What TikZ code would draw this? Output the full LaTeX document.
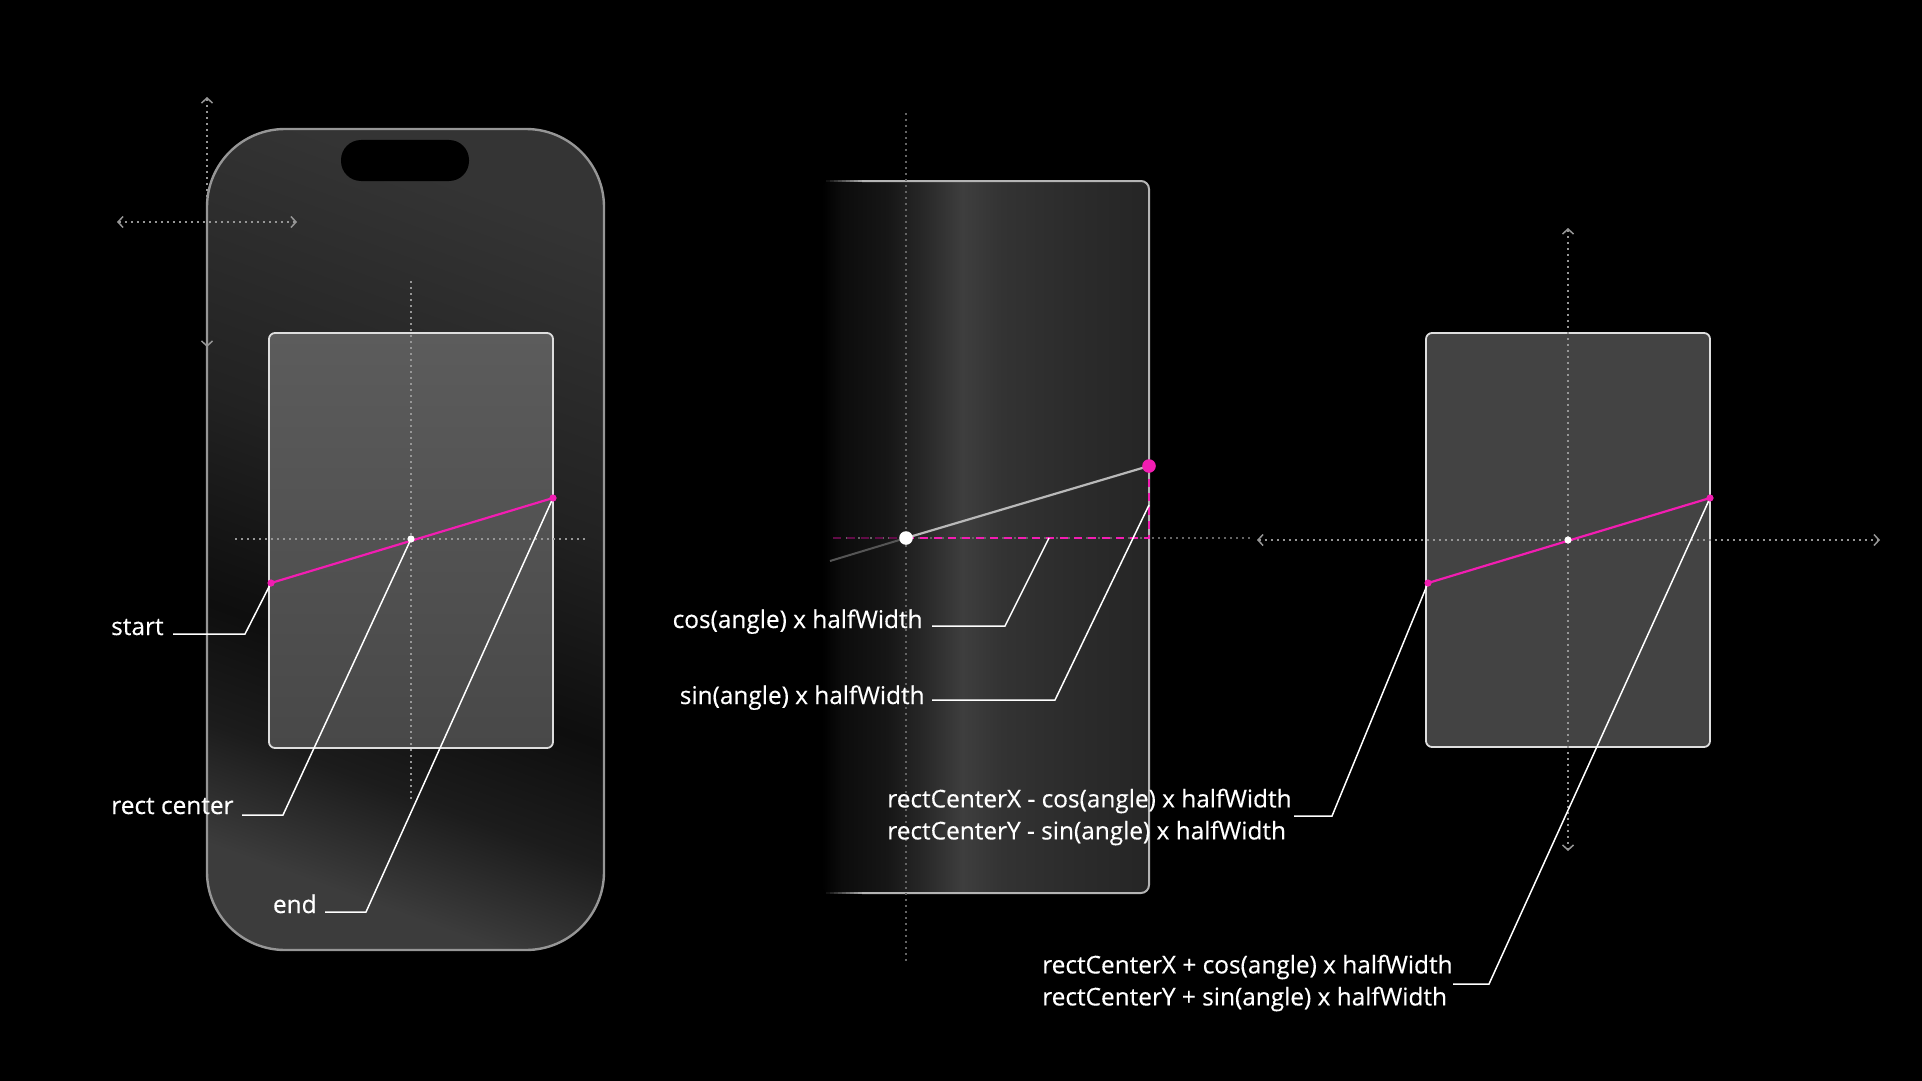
\documentclass[tikz,border=0pt]{standalone}
\usepackage{fontspec}
\setmainfont{Open Sans}[FakeBold=0.35]
\usepackage{tikz}
\usetikzlibrary{positioning,calc,arrows.meta}
\definecolor{hotpink}{RGB}{242,29,178}
\definecolor{guidegray}{RGB}{150,150,150}
\definecolor{darkguide}{RGB}{100,100,100}
\definecolor{phonetop}{RGB}{52,52,52}
\definecolor{phoneupper}{RGB}{34,34,34}
\definecolor{phonemid}{RGB}{14,14,14}
\definecolor{phonelow}{RGB}{28,28,28}
\definecolor{phonebot}{RGB}{60,60,60}
\definecolor{phoneedge}{RGB}{150,150,150}
\definecolor{recttop}{RGB}{92,92,92}
\definecolor{rectbot}{RGB}{72,72,72}
\definecolor{rectedge}{RGB}{222,222,222}
\definecolor{flatrect}{RGB}{67,67,67}
\definecolor{midA}{RGB}{12,12,12}
\definecolor{midB}{RGB}{22,22,22}
\definecolor{midC}{RGB}{38,38,38}
\definecolor{midD}{RGB}{62,62,62}
\definecolor{midE}{RGB}{51,51,51}
\definecolor{midF}{RGB}{44,44,44}
\definecolor{midG}{RGB}{37,37,37}
\definecolor{midedge}{RGB}{180,180,180}
\definecolor{radiusfar}{RGB}{85,85,85}
\definecolor{radiusnear}{RGB}{185,185,185}
\pgfdeclareverticalshading{phonefill}{100bp}{color(0bp)=(phonebot); color(25bp)=(phonebot); color(33bp)=(phonelow); color(41bp)=(phonemid); color(55bp)=(phoneupper); color(75bp)=(phonetop); color(100bp)=(phonetop)}
\pgfdeclarehorizontalshading{midfill}{100bp}{color(0bp)=(black); color(25bp)=(black); color(28bp)=(midA); color(35bp)=(midB); color(40bp)=(midC); color(46.5bp)=(midD); color(52.5bp)=(midE); color(62.5bp)=(midF); color(75bp)=(midG); color(100bp)=(midG)}
\tikzstyle{guide} = [guidegray, line width=0.75pt, dash pattern=on 1.2pt off 1.8pt]
\tikzstyle{guidearrows} = [guide, >={Straight Barb[length=2.5pt,width=5.5pt]}, <->]
\tikzstyle{leader} = [draw=white, line width=0.75pt]
\tikzstyle{lbltext} = [text=white, inner sep=0pt, font=\fontsize{12.2}{16}\selectfont]
\tikzstyle{pinkpath} = [hotpink, line width=1.1pt]
\tikzstyle{pinkdash} = [hotpink, line width=1pt, dash pattern=on 4pt off 3pt]
\tikzstyle{pinkdot} = [circle, fill=hotpink, inner sep=0pt, minimum size=3.6pt]
\tikzstyle{whitedot} = [circle, fill=white, inner sep=0pt, minimum size=3.6pt]
\tikzstyle{bigdot} = [minimum size=6.8pt]
\begin{document}
\begin{tikzpicture}[x=0.5pt, y=-0.5pt]
\fill[black] (0,0) rectangle (1922,1081);
\useasboundingbox (0,0) rectangle (1922,1081);

% phone
\shade[shading=phonefill, shading angle=-20, rounded corners=39pt] (207,129) rectangle (604,950);
\draw[phoneedge, line width=1.2pt, rounded corners=39pt] (207,129) rectangle (604,950);
\fill[black, rounded corners=10pt] (341,140) rectangle (469,181);
\shade[top color=recttop, bottom color=rectbot, draw=rectedge, line width=0.9pt, rounded corners=3pt] (269,333) rectangle (553,748);

\draw[guide] (235,539) -- (587,539);
\draw[guide] (411,281) -- (411,800);
\draw[guidearrows] (207,97) -- (207,347);
\draw[guidearrows] (117,222) -- (297,222);

\coordinate (lcenter) at (411,539);
\coordinate (lstart) at (271,583);
\coordinate (lend) at (553,498);
\draw[pinkpath] (lstart) -- (lend);

\node[lbltext, anchor=base east] (startlbl) at (164,635) {start};
\node[lbltext, anchor=base east] (centerlbl) at (234,814) {rect center};
\node[lbltext, anchor=base east] (endlbl) at (317,913) {end};
\coordinate (startknee) at (245,634);
\coordinate (centerknee) at (283,815);
\coordinate (endknee) at (366,912);
\draw[leader] ($(startlbl.east |- startknee)+(9,0)$) -- (startknee) -- (lstart);
\draw[leader] ($(centerlbl.east |- centerknee)+(8,0)$) -- (centerknee) -- (lcenter);
\draw[leader] ($(endlbl.east |- endknee)+(8,0)$) -- (endknee) -- (lend);

\node[pinkdot] (lstartdot) at (lstart) {};
\node[pinkdot] (lenddot) at (lend) {};
\node[whitedot] (lcenterdot) at (lcenter) {};

% middle
\shade[shading=midfill, rounded corners=4pt] (822,181) rectangle (1149,893);
\draw[midedge, line width=1pt, rounded corners=4pt] (862,181) -- (1149,181) -- (1149,893) -- (862,893);
\foreach \i in {0,...,9} {
  \draw[midedge!\i0!black, line width=1pt] (822+4*\i,181) -- (826+4*\i,181);
  \draw[midedge!\i0!black, line width=1pt] (822+4*\i,893) -- (826+4*\i,893);
}

\draw[guide, darkguide] (846,538) -- (1250,538);
\draw[guide, darkguide] (906,113) -- (906,962);

\coordinate (mcenter) at (906,538);
\coordinate (mtip) at (1149,466);
\coordinate (mfoot) at (1149,538);
\coordinate (mtail) at (830,561);
\draw[radiusfar, line width=1pt] (mtail) -- (mcenter);
\draw[radiusnear, line width=1.1pt] (mcenter) -- (mtip);
\draw[pinkdash, hotpink!40!black] (833,538) -- (mcenter);
\draw[pinkdash] (mcenter) -- (mfoot) -- (mtip);

\node[lbltext, anchor=base east] (coslbl) at (923,628) {cos(angle) x halfWidth};
\node[lbltext, anchor=base east] (sinlbl) at (925,704) {sin(angle) x halfWidth};
\coordinate (cosfoot) at (1049,538);
\coordinate (cosknee) at (1005,626);
\coordinate (sinfoot) at (1149,505);
\coordinate (sinknee) at (1055,700);
\draw[leader] ($(coslbl.east |- cosknee)+(9,0)$) -- (cosknee) -- (cosfoot);
\draw[leader] ($(sinlbl.east |- sinknee)+(7,0)$) -- (sinknee) -- (sinfoot);

\node[whitedot, bigdot] (mcenterdot) at (mcenter) {};
\node[pinkdot, bigdot] (mtipdot) at (mtip) {};

% right
\fill[flatrect, draw=rectedge, line width=0.9pt, rounded corners=3pt] (1426,333) rectangle (1710,747);
\draw[guidearrows] (1568,228) -- (1568,851);
\draw[guidearrows] (1257,540) -- (1880,540);

\coordinate (rcenter) at (1568,540);
\coordinate (rstart) at (1428,583);
\coordinate (rend) at (1710,498);
\draw[pinkpath] (rstart) -- (rend);

\node[lbltext, align=left, anchor=east] (minuslbl) at (1292,817) {rectCenterX - cos(angle) x halfWidth\\rectCenterY - sin(angle) x halfWidth};
\node[lbltext, align=left, anchor=east] (pluslbl) at (1453,983) {rectCenterX + cos(angle) x halfWidth\\rectCenterY + sin(angle) x halfWidth};
\coordinate (minusknee) at (1332,816);
\coordinate (plusknee) at (1489,984);
\draw[leader] ($(minuslbl.east |- minusknee)+(2,0)$) -- (minusknee) -- (rstart);
\draw[leader] ($(pluslbl.east |- plusknee)+(0,0)$) -- (plusknee) -- (rend);

\node[pinkdot] (rstartdot) at (rstart) {};
\node[pinkdot] (renddot) at (rend) {};
\node[whitedot] (rcenterdot) at (rcenter) {};
\end{tikzpicture}
\end{document}
